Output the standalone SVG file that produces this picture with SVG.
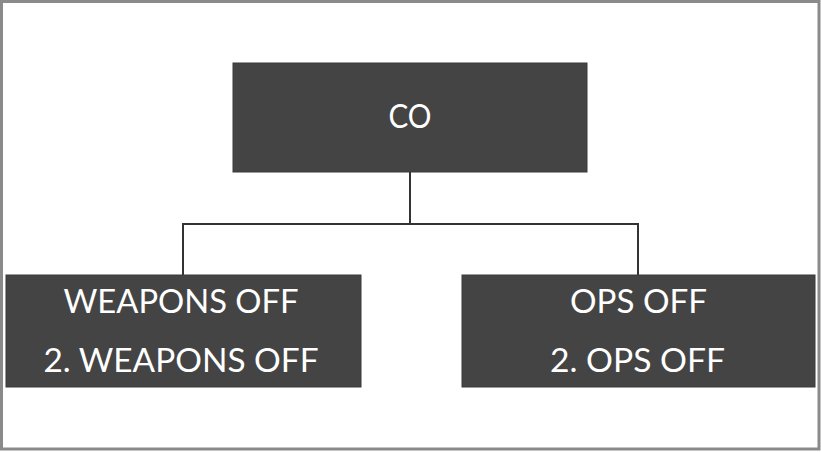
<svg xmlns="http://www.w3.org/2000/svg" width="821" height="452" viewBox="0 0 821 452">
<style>
.box{fill:#444444;stroke:#3a3a3a;stroke-width:1}
.lbl{font-family:Lato,"Open Sans","Liberation Sans",sans-serif;font-size:32px;fill:#ffffff;text-anchor:middle}
.conn{fill:none;stroke:#333333;stroke-width:2}
</style>
<rect x="0" y="0" width="821" height="452" fill="#ffffff"/>
<rect x="1.5" y="1.5" width="817.5" height="447.5" fill="none" stroke="#8a8a8a" stroke-width="3"/>
<g id="connectors">
<path class="conn" d="M410,172 V224 M183,224 H638 M183,223 V275 M638,223 V275"/>
</g>
<g id="node-co">
<rect class="box" x="233" y="63" width="354" height="109"/>
<text class="lbl" x="410" y="128" textLength="43" lengthAdjust="spacingAndGlyphs">CO</text>
</g>
<g id="node-weapons">
<rect class="box" x="6" y="275" width="355" height="112"/>
<text class="lbl" x="181" y="313" textLength="235" lengthAdjust="spacingAndGlyphs">WEAPONS OFF</text>
<text class="lbl" x="181" y="372" textLength="275" lengthAdjust="spacingAndGlyphs">2. WEAPONS OFF</text>
</g>
<g id="node-ops">
<rect class="box" x="462" y="275" width="353" height="112"/>
<text class="lbl" x="638.5" y="313" textLength="137" lengthAdjust="spacingAndGlyphs">OPS OFF</text>
<text class="lbl" x="637.5" y="372" textLength="175" lengthAdjust="spacingAndGlyphs">2. OPS OFF</text>
</g>
</svg>
